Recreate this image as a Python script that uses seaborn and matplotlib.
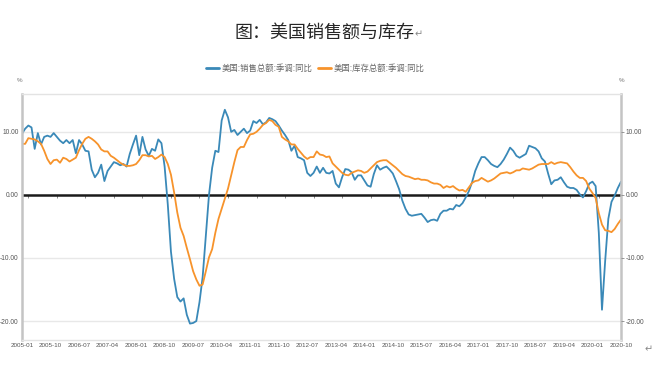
import numpy as np
import pandas as pd
import matplotlib
matplotlib.use("Agg")
import matplotlib.pyplot as plt
import seaborn as sns

months = pd.period_range("2005-01", "2020-10", freq="M").strftime("%Y-%m").tolist()

sales_yoy = [
    9.7, 10.5, 11.0, 10.7, 7.3, 9.8, 8.0, 9.2, 9.4, 9.2,
    9.8, 9.2, 8.6, 8.2, 8.7, 8.2, 8.7, 6.6, 8.7, 8.0,
    7.0, 6.9, 4.0, 2.8, 3.5, 4.8, 2.2, 3.8, 4.5, 5.2,
    5.0, 4.7, 4.9, 4.5, 6.5, 8.0, 9.4, 6.3, 9.2, 7.2,
    6.2, 7.3, 7.0, 8.8, 8.2, 4.5, -1.5, -9.0, -13.3, -16.2,
    -16.9, -16.4, -19.0, -20.4, -20.3, -20.0, -17.0, -13.0, -6.5, 0.0,
    4.3, 7.0, 6.8, 11.8, 13.5, 12.3, 10.0, 10.3, 9.5, 10.0,
    10.5, 9.8, 10.2, 11.7, 11.4, 11.9, 11.2, 11.5, 12.2, 12.0,
    11.7, 11.0, 10.2, 9.5, 8.7, 7.0, 7.8, 6.0, 5.8, 5.5,
    3.5, 3.0, 3.5, 4.5, 3.5, 4.3, 3.5, 3.4, 3.8, 1.8,
    1.2, 2.8, 4.1, 4.0, 3.6, 2.4, 3.1, 3.1, 2.3, 1.5,
    1.3, 3.3, 4.7, 4.0, 4.3, 4.5, 4.0, 3.4, 2.2, 0.9,
    -0.9, -2.2, -3.1, -3.3, -3.2, -3.1, -3.0, -3.6, -4.3, -4.0,
    -3.9, -4.1, -3.0, -2.5, -2.5, -2.2, -2.3, -1.6, -1.8, -1.3,
    -0.4, 0.6, 2.0, 3.8, 5.0, 6.0, 6.0, 5.5, 4.9, 4.6,
    4.4, 4.9, 5.6, 6.5, 7.5, 7.0, 6.2, 5.9, 6.2, 6.5,
    7.8, 7.6, 7.4, 6.9, 5.8, 5.3, 3.4, 1.7, 2.3, 2.4,
    2.8, 2.0, 1.3, 1.1, 1.1, 0.8, 0.1, -0.4, 0.6, 1.8,
    2.1, 1.4, -6.0, -18.2, -10.5, -3.8, -1.1, -0.1, 1.1, 2.1,
]

inventory_yoy = [
    8.1, 8.1, 9.0, 8.9, 8.8, 8.5, 8.1, 7.0, 5.7, 4.9,
    5.5, 5.6, 5.1, 5.9, 5.7, 5.3, 5.6, 5.9, 7.1, 8.1,
    8.9, 9.2, 8.9, 8.5, 8.0, 7.2, 6.9, 6.9, 6.2, 5.9,
    5.5, 5.1, 4.8, 4.6, 4.6, 4.7, 4.9, 5.5, 6.3, 6.3,
    6.1, 6.2, 5.7, 6.0, 6.4, 6.0, 4.9, 3.2, 0.4, -2.8,
    -5.2, -6.5, -8.4, -10.2, -12.1, -13.4, -14.4, -14.2, -12.1, -9.9,
    -8.6, -6.0, -3.8, -2.2, -0.6, 1.0, 3.1, 5.2, 7.1, 7.6,
    7.6, 8.7, 9.6, 9.7, 10.0, 10.5, 11.1, 11.4, 11.9, 11.7,
    11.1, 10.8, 9.2, 8.8, 8.5, 8.0, 8.0, 7.3, 6.7, 6.1,
    5.7, 6.0, 6.0, 6.9, 6.4, 6.3, 6.0, 6.1, 5.0, 4.5,
    4.0, 3.5, 3.2, 3.1, 3.5, 3.7, 3.9, 3.8, 3.5, 3.7,
    4.2, 4.7, 5.2, 5.4, 5.5, 5.5, 5.1, 4.7, 4.3, 3.8,
    3.3, 3.0, 2.9, 2.7, 2.5, 2.6, 2.4, 2.4, 2.3, 2.0,
    1.8, 1.8, 1.6, 1.1, 1.4, 1.2, 1.4, 1.0, 0.7, 0.8,
    0.5, 1.2, 1.9, 2.2, 2.3, 2.7, 2.4, 2.1, 2.3, 2.6,
    3.0, 3.4, 3.5, 3.6, 3.4, 3.6, 3.9, 3.9, 4.2, 4.1,
    4.0, 4.2, 4.5, 4.8, 4.9, 4.9, 4.9, 5.2, 4.9, 5.1,
    5.2, 5.1, 5.0, 4.4, 3.7, 3.1, 2.7, 2.7, 2.2, 1.0,
    0.3, -0.5, -2.9, -4.7, -5.6, -5.7, -5.9, -5.4, -4.6, -3.9,
]

sales_label = "美国:销售总额:季调:同比"
inv_label = "美国:库存总额:季调:同比"
y_ticks = [10, 0, -10, -20]
tick_step = 9

df = pd.DataFrame({"idx": np.arange(len(months)), "month": months,
                   sales_label: sales_yoy, inv_label: inventory_yoy})
long = df.melt(id_vars=["idx", "month"], var_name="series", value_name="value")

sns.set_theme(style="white")
plt.rcParams["font.family"] = ["Liberation Sans", "Noto Sans CJK SC", "DejaVu Sans"]

fig = plt.figure(figsize=(6.59, 3.74), dpi=100)
ax = fig.add_axes([22 / 659, 34 / 374, 599 / 659, 246 / 374])

blue, orange = "#3a89b8", "#f7932b"
sns.lineplot(data=long, x="idx", y="value", hue="series",
             palette=[blue, orange], linewidth=1.3, ax=ax, legend=False)

ax.set_xlim(0, len(months) - 1)
ax.set_ylim(-23, 16)
ax.axhline(0, color="#1a1a1a", lw=1.8, zorder=1)
for v in [10, -10, -20]:
    ax.axhline(v, color="#e8e8e8", lw=1.0, zorder=0)

ax.set_xticks(df["idx"][::tick_step])
ax.set_xticklabels(df["month"][::tick_step], fontsize=4.5, color="#555555")
ax.set_yticks(y_ticks)
ax.set_yticklabels([f"{v:.2f}" for v in y_ticks], fontsize=4.8, color="#555555")
ax.tick_params(axis="both", length=0, pad=2.5)
ax.set_xlabel("")
ax.set_ylabel("")
for s in ["top", "bottom"]:
    ax.spines[s].set_color("#e3e3e3")
    ax.spines[s].set_linewidth(1.0)
for s in ["left", "right"]:
    ax.spines[s].set_color("#c4c4c4")
    ax.spines[s].set_linewidth(1.8)

# right axis labels
ax2 = ax.twinx()
ax2.set_ylim(ax.get_ylim())
ax2.set_yticks(y_ticks)
ax2.set_yticklabels([f"{v:.2f}" for v in y_ticks], fontsize=4.8, color="#555555")
ax2.tick_params(axis="y", length=2, width=0.6, color="#888888", pad=1.5)
for s in ax2.spines.values():
    s.set_visible(False)

# little ticks on the zero line
zero_pos = (0 - (-23)) / 39
sec = ax.secondary_xaxis(zero_pos)
sec.set_xticks(np.arange(2, len(months), tick_step))
sec.tick_params(axis="x", direction="in", length=2.5, width=0.6, color="#777777",
                labeltop=False, labelbottom=False)
for s in sec.spines.values():
    s.set_visible(False)

fig.text(20 / 659, 1 - 81 / 374, "%", fontsize=4.5, color="#777777", ha="center", va="center")
fig.text(622 / 659, 1 - 81 / 374, "%", fontsize=4.5, color="#777777", ha="center", va="center")

handles = [plt.Line2D([], [], color=blue, lw=2), plt.Line2D([], [], color=orange, lw=2)]
leg = fig.legend(handles, [sales_label, inv_label], loc="center", ncol=2,
                 bbox_to_anchor=(315 / 659, 1 - 68 / 374), frameon=False,
                 fontsize=6, handlelength=1.6, handletextpad=0.3, columnspacing=0.6)
for t in leg.get_texts():
    t.set_color("#666666")
    t.set_family(["Noto Sans CJK SC", "DejaVu Sans"])

title = fig.text(325 / 659, 1 - 33 / 374, "图：美国销售额与库存", fontsize=13,
                 family=["Noto Sans CJK SC", "DejaVu Sans"], ha="center", va="center")
fig.text(0, 0, "↵", fontsize=7, color="#888888", family="DejaVu Sans")
plt.annotate("↵", xy=(1, 0.15), xycoords=title, fontsize=7, color="#888888",
             family="DejaVu Sans", va="bottom")
fig.texts[-1].set_position((645 / 659, 1 - 352 / 374))

fig.savefig("out.png", dpi=100)
